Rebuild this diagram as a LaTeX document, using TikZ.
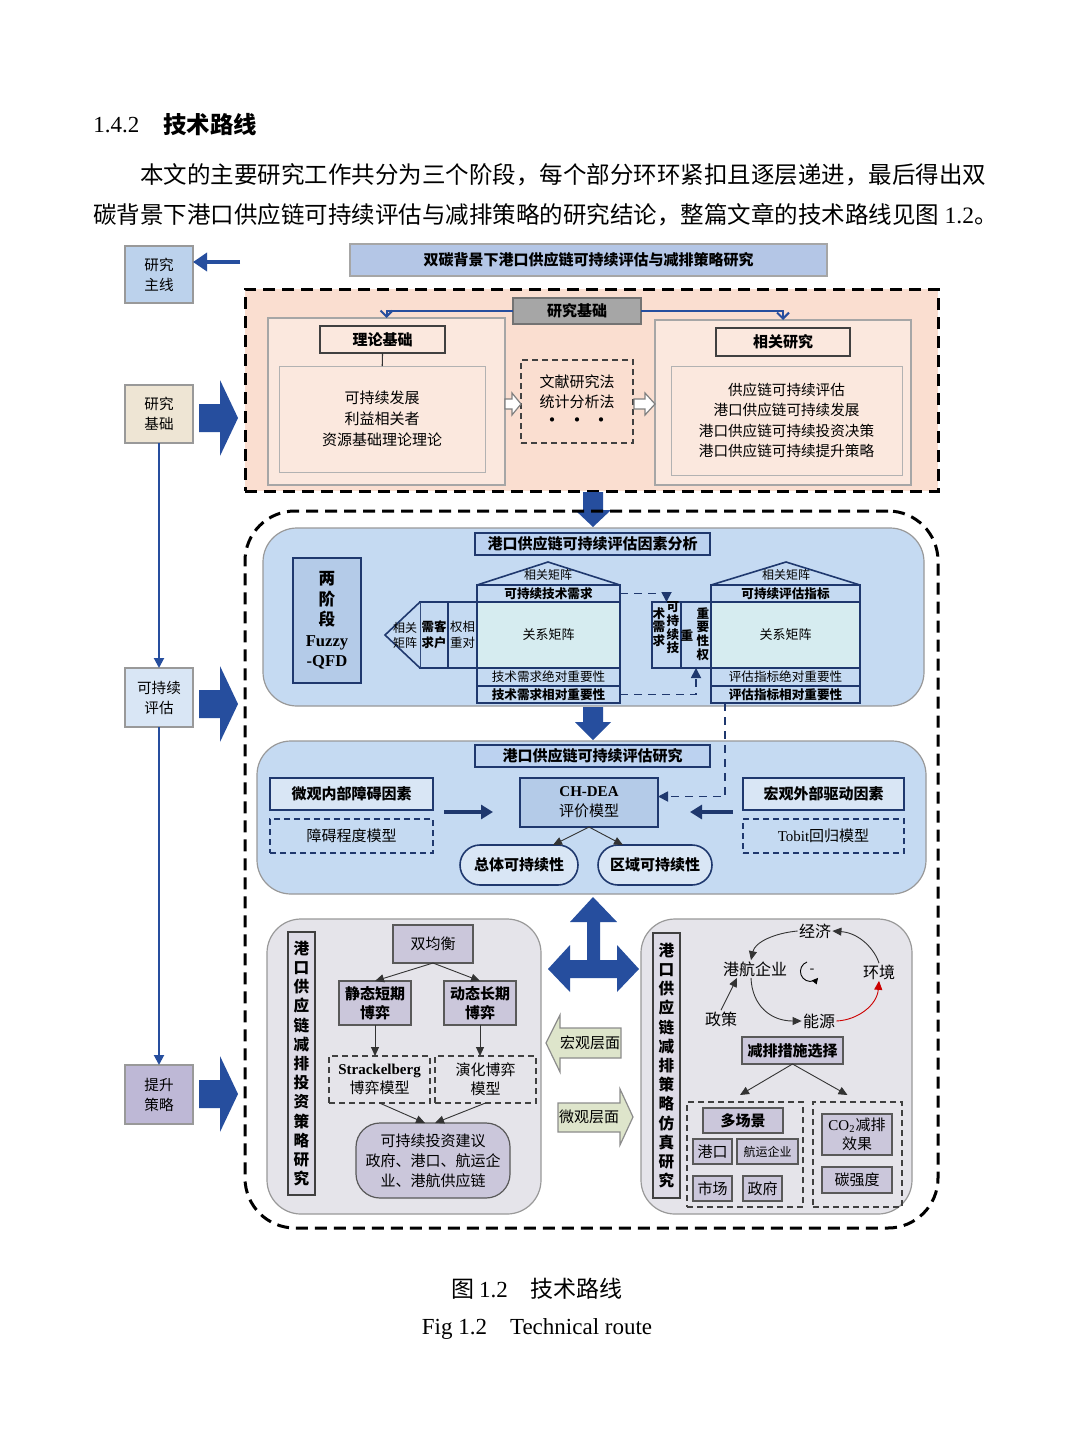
\documentclass[tikz,border=0pt]{standalone}
\usepackage{fontspec}
\setmainfont{Noto Sans CJK SC}
\newfontfamily\lat{Liberation Serif}
\usetikzlibrary{arrows.meta,calc}
\newcommand{\myfs}[2]{\fontsize{#1}{#2}\selectfont}
\newcommand{\bx}[7]{\node[#1, minimum width={(#5-#3)*0.5pt}, minimum height={(#6-#4)*0.5pt}] (#2) at ({(#3+#5)/2},{(#4+#6)/2}) {#7};}
\definecolor{navy}{RGB}{31,56,110}
\definecolor{arrowblue}{RGB}{38,78,158}
\definecolor{peach}{RGB}{250,222,208}
\definecolor{peachin}{RGB}{251,232,222}
\definecolor{secblue}{RGB}{197,218,242}
\definecolor{titblue}{RGB}{188,210,240}
\definecolor{boxblue}{RGB}{180,203,232}
\definecolor{matcyan}{RGB}{214,236,240}
\definecolor{secgray}{RGB}{229,228,234}
\definecolor{lav}{RGB}{203,199,219}
\definecolor{mainblue}{RGB}{188,210,236}
\definecolor{pgblue}{RGB}{217,230,245}
\definecolor{jcbeige}{RGB}{238,229,212}
\definecolor{tslav}{RGB}{190,184,214}
\definecolor{topbar}{RGB}{180,198,230}
\definecolor{lgreen}{RGB}{222,229,203}
\begin{document}
\begin{tikzpicture}[x=0.5pt,y=-0.5pt,
  base/.style={inner sep=0pt, outer sep=0pt, align=center, font=\myfs{7.5}{10}},
  nbox/.style={base, draw=navy, line width=0.8pt},
  hbox/.style={base, draw=navy, line width=0.8pt, fill=secblue, font=\myfs{6.3}{8}},
  dbox/.style={base, draw=black!75, line width=0.7pt, dash pattern=on 3pt off 2pt},
  lbox/.style={base, draw=black!65, line width=0.6pt, fill=lav},
  side/.style={base, draw=black!40, line width=0.6pt, font=\myfs{7.3}{10}},
  txt/.style={inner sep=0.5pt, align=center},
  tarrow/.style={-{Triangle[length=4.5pt,width=4pt]}, line width=0.45pt, black!80},
  fatarrow/.style={-{Triangle[length=6pt,width=7pt]}, line width=1.6pt, navy},
  dasharrow/.style={-{Triangle[length=5pt,width=5pt]}, line width=0.9pt, navy, dash pattern=on 4pt off 3pt},
  bigdash/.style={draw=black, line width=1.5pt, dash pattern=on 6pt off 3.5pt},
  colline/.style={-{Triangle[length=5pt,width=5pt]}, line width=1pt, arrowblue},
]
\fill[white] (0,0) rectangle (1080,1440);
\useasboundingbox (0,0) rectangle (1080,1440);

% ---------- page text ----------
\node[anchor=west, inner sep=0, font=\myfs{11.5}{14}] (hnum) at (93,125) {\lat 1.4.2};
\node[anchor=west, inner sep=0, font=\myfs{11.7}{14}\bfseries] (htitle) at (163,125) {技术路线};
\node[anchor=west, inner sep=0, font=\myfs{11.75}{14}] (p1) at (140,175) {本文的主要研究工作共分为三个阶段，每个部分环环紧扣且逐层递进，最后得出双};
\node[anchor=west, inner sep=0, font=\myfs{11.75}{14}] (p2) at (93,215) {碳背景下港口供应链可持续评估与减排策略的研究结论，整篇文章的技术路线见图 {\lat 1.2}。};
\node[inner sep=0, font=\myfs{11.5}{14}] (cap1) at (537,1289) {图 {\lat 1.2}\quad 技术路线};
\node[inner sep=0, font=\myfs{11.5}{14}\lat] (cap2) at (537,1329) {Fig 1.2\quad Technical route};

% ---------- title bar & left column ----------
\bx{base, fill=topbar, draw=black!35, line width=0.6pt, font=\myfs{7.5}{10}\bfseries}{title}{350}{244}{827}{276}{双碳背景下港口供应链可持续评估与减排策略研究}
\bx{side, fill=mainblue}{zhuxian}{125}{246}{193}{303}{研究\\主线}
\coordinate (zxs) at (240,262);
\draw[-{Triangle[length=7pt,width=9pt]}, line width=1.8pt, arrowblue] (zxs) -- (zhuxian.east |- zxs);
\bx{side, fill=jcbeige}{jichu}{125}{385}{193}{443}{研究\\基础}
\bx{side, fill=pgblue}{pinggu}{125}{668}{193}{727}{可持续\\评估}
\bx{side, fill=tslav}{celve}{125}{1065}{193}{1124}{提升\\策略}
\draw[colline] (jichu) -- (pinggu);
\draw[colline] (pinggu) -- (celve);
\foreach \c in {418,704,1094}{
  \fill[arrowblue] (199,\c-14) -- (220,\c-14) -- (220,\c-38) -- (238,\c) -- (220,\c+38) -- (220,\c+14) -- (199,\c+14) -- cycle;
}

% ---------- section 1 ----------
\bx{base, bigdash, fill=peach}{sec1}{245}{289}{938}{491}{}
\bx{base, draw=black!35, fill=peachin, line width=0.6pt}{lbox}{268}{318}{505}{485}{}
\bx{base, draw=black!35, fill=peachin, line width=0.6pt}{rbox}{655}{320}{911}{485}{}
\bx{base, fill=black!35, draw=black!55, line width=0.6pt, font=\myfs{7.5}{10}\bfseries}{jcgray}{513}{298}{641}{324}{研究基础}
\draw[-{Straight Barb[length=3pt,width=6pt]}, line width=1pt, arrowblue] (jcgray.west) -| (lbox.north);
\draw[-{Straight Barb[length=3pt,width=6pt]}, line width=1pt, arrowblue] (jcgray.east) -| (rbox.north);
\bx{base, draw=black!75, fill=peachin, line width=0.7pt, font=\myfs{7.5}{10}\bfseries}{lilun}{320}{326}{445}{353}{理论基础}
\bx{base, draw=black!30, fill=peachin, line width=0.5pt, font=\myfs{7.5}{10.5}}{lin}{279}{366}{485}{472}{可持续发展\\利益相关者\\资源基础理论理论}
\draw[line width=0.6pt, black!80] (lilun) -- (lin);
\bx{dbox, font=\myfs{7.5}{10}}{wenxian}{521}{360}{633}{443}{文献研究法\\统计分析法\\{\myfs{10}{10}• • •}}
\bx{base, draw=black!75, fill=peachin, line width=0.7pt, font=\myfs{7.5}{10}\bfseries}{xgyj}{716}{328}{850}{356}{相关研究}
\bx{base, draw=black!30, fill=peachin, line width=0.5pt, font=\myfs{7.3}{10.3}}{rin}{671}{366}{902}{475}{供应链可持续评估\\港口供应链可持续发展\\港口供应链可持续投资决策\\港口供应链可持续提升策略}
\draw[line width=0.6pt, black!50, fill=white] (505,399) -- (512,399) -- (512,393) -- (521,404) -- (512,415) -- (512,409) -- (505,409) -- cycle;
\draw[line width=0.6pt, black!50, fill=white] (634,399) -- (645,399) -- (645,393) -- (655,404) -- (645,415) -- (645,409) -- (634,409) -- cycle;

% down arrow 1
\fill[arrowblue] (583,492) -- (603,492) -- (603,510) -- (611,510) -- (593,527) -- (575,510) -- (583,510) -- cycle;

% ---------- sections 2/3 outer ----------
\bx{base, bigdash, rounded corners=25pt}{sec23}{245}{511}{938}{1228}{}

% ---------- block A ----------
\bx{base, draw=black!40, line width=0.6pt, fill=secblue, rounded corners=17pt}{secA}{263}{528}{924}{706}{}
\bx{nbox, fill=titblue, font=\myfs{7.5}{10}\bfseries}{titA}{475}{533}{710}{555}{港口供应链可持续评估因素分析}
\bx{nbox, fill=boxblue, font=\myfs{8.3}{10.3}\bfseries}{fuzzy}{293}{558}{361}{683}{两\\阶\\段\\{\lat\bfseries Fuzzy}\\{\lat\bfseries -QFD}}

% house 1
\draw[navy, line width=0.8pt, fill=secblue] (477,585) -- (548,562) -- (620,585);
\node[txt, font=\myfs{6}{8}] (roof1) at (548,575) {相关矩阵};
\bx{hbox, font=\myfs{6.3}{8}\bfseries}{h1top}{477}{585}{620}{602}{可持续技术需求}
\bx{hbox, fill=matcyan, font=\myfs{6.5}{8}}{h1mat}{477}{602}{620}{668}{关系矩阵}
\bx{hbox}{h1abs}{477}{668}{620}{686}{技术需求绝对重要性}
\bx{hbox, font=\myfs{6.3}{8}\bfseries}{h1rel}{477}{686}{620}{703}{技术需求相对重要性}
\bx{hbox, font=\myfs{6.2}{8}}{w1b}{448}{602}{477}{668}{权相\\重对}
\bx{hbox, font=\myfs{6.2}{8}\bfseries}{w1a}{420}{602}{448}{668}{需客\\求户}
\draw[navy, line width=0.8pt, fill=secblue] (420,602) -- (385,635) -- (420,668);
\node[txt, font=\myfs{6}{7.5}] (w1tip) at (405,635) {相关\\矩阵};

% middle box
\bx{hbox}{m1}{652}{602}{681}{668}{}
\bx{hbox}{m2}{681}{602}{711}{668}{}
\node[txt, font=\myfs{6.3}{6.8}\bfseries] (m1l) at (659,627) {术\\需\\求};
\node[txt, font=\myfs{6.3}{6.8}\bfseries] (m1r) at (673,628) {可\\持\\续\\技};
\node[txt, font=\myfs{6.3}{6.8}\bfseries] (m2l) at (687,636) {重};
\node[txt, font=\myfs{6.3}{6.8}\bfseries] (m2r) at (703,634) {重\\要\\性\\权};

% house 2
\draw[navy, line width=0.8pt, fill=secblue] (711,585) -- (786,562) -- (860,585);
\node[txt, font=\myfs{6}{8}] (roof2) at (786,575) {相关矩阵};
\bx{hbox, font=\myfs{6.3}{8}\bfseries}{h2top}{711}{585}{860}{602}{可持续评估指标}
\bx{hbox, fill=matcyan, font=\myfs{6.5}{8}}{h2mat}{711}{602}{860}{668}{关系矩阵}
\bx{hbox}{h2abs}{711}{668}{860}{686}{评估指标绝对重要性}
\bx{hbox, font=\myfs{6.3}{8}\bfseries}{h2rel}{711}{686}{860}{703}{评估指标相对重要性}

\draw[dasharrow] (h1top.east) -| (m1.north);
\draw[dasharrow] (h1rel.east) -| (m2.south);

% down arrow 2
\fill[arrowblue] (583,707) -- (603,707) -- (603,722) -- (611,722) -- (593,740) -- (575,722) -- (583,722) -- cycle;

% ---------- block B ----------
\bx{base, draw=black!40, line width=0.6pt, fill=secblue, rounded corners=17pt}{secB}{257}{741}{926}{894}{}
\bx{nbox, fill=titblue, font=\myfs{7.5}{10}\bfseries}{titB}{475}{745}{710}{767}{港口供应链可持续评估研究}
\bx{nbox, fill=pgblue, font=\myfs{7.5}{10}\bfseries}{micro}{270}{778}{433}{810}{微观内部障碍因素}
\bx{dbox, draw=navy}{zhangai}{270}{819}{433}{853}{障碍程度模型}
\bx{nbox, fill=boxblue, font=\myfs{7.5}{10}}{chdea}{520}{778}{658}{827}{{\lat\bfseries CH-DEA}\\评价模型}
\bx{nbox, fill=pgblue, font=\myfs{7.5}{10}\bfseries}{macro}{743}{778}{904}{810}{宏观外部驱动因素}
\bx{dbox, draw=navy}{tobit}{743}{819}{904}{853}{{\lat Tobit}回归模型}
\bx{nbox, fill=pgblue, rounded corners=10pt, font=\myfs{7.5}{10}\bfseries}{zongti}{460}{845}{578}{885}{总体可持续性}
\bx{nbox, fill=pgblue, rounded corners=10pt, font=\myfs{7.5}{10}\bfseries}{quyu}{598}{845}{712}{885}{区域可持续性}
\draw[tarrow] (chdea.south) -- ([xshift=17pt]zongti.north);
\draw[tarrow] (chdea.south) -- ([xshift=-16pt]quyu.north);
\coordinate (a1s) at (444,812);
\coordinate (a1e) at (493,812);
\coordinate (a2s) at (733,812);
\coordinate (a2e) at (690,812);
\draw[fatarrow] (a1s) -- (a1e);
\draw[fatarrow] (a2s) -- (a2e);
\draw[dasharrow] ([xshift=7pt]h2rel.south west) |- ([yshift=3pt]chdea.east);

% ---------- central arrows ----------
\fill[arrowblue] (593,897) -- (617,922) -- (600,922) -- (600,960) -- (617,960) -- (617,945) -- (639,969) -- (617,992) -- (617,978) -- (570,978) -- (570,992) -- (548,969) -- (570,945) -- (570,960) -- (587,960) -- (587,922) -- (570,922) -- cycle;
\draw[line width=0.6pt, black!45, fill=lgreen] (621,1028) -- (560,1028) -- (560,1015) -- (546,1043) -- (560,1072) -- (560,1058) -- (621,1058) -- cycle;
\node[txt, font=\myfs{7.5}{10}] (hgcm) at (590,1043) {宏观层面};
\draw[line width=0.6pt, black!45, fill=lgreen] (558,1103) -- (620,1103) -- (620,1089) -- (633,1117) -- (620,1145) -- (620,1132) -- (558,1132) -- cycle;
\node[txt, font=\myfs{7.5}{10}] (wgcm) at (589,1117) {微观层面};

% ---------- block C ----------
\bx{base, draw=black!40, line width=0.6pt, fill=secgray, rounded corners=17pt}{secC}{267}{919}{541}{1214}{}
\bx{base, draw=black!75, line width=0.8pt, fill=secgray!70!lav, font=\myfs{7.8}{9.6}\bfseries}{vtC}{288}{932}{315}{1195}{港\\口\\供\\应\\链\\减\\排\\投\\资\\策\\略\\研\\究}
\bx{lbox}{sjh}{393}{925}{473}{963}{双均衡}
\bx{lbox, font=\myfs{7.5}{9.5}\bfseries}{jt}{339}{981}{411}{1025}{静态短期\\博弈}
\bx{lbox, font=\myfs{7.5}{9.5}\bfseries}{dt}{444}{981}{516}{1025}{动态长期\\博弈}
\bx{dbox, font=\myfs{7.5}{9.5}}{strk}{329}{1056}{430}{1103}{{\lat\bfseries Strackelberg}\\博弈模型}
\bx{dbox, font=\myfs{7.5}{9.5}}{yh}{435}{1056}{536}{1103}{演化博弈\\模型}
\bx{lbox, rounded corners=12pt, font=\myfs{7.5}{10}}{jy}{356}{1123}{510}{1198}{可持续投资建议\\政府、港口、航运企\\业、港航供应链}
\draw[tarrow] (sjh.south) -- (jt.north);
\draw[tarrow] (sjh.south) -- (dt.north);
\draw[tarrow] (jt.south) -- (jt.south |- strk.north);
\draw[tarrow] (dt.south) -- (dt.south |- yh.north);
\draw[tarrow] (strk.south) -- ([xshift=-4pt]jy.north);
\draw[tarrow] (yh.south) -- ([xshift=1pt]jy.north);

% ---------- block D ----------
\bx{base, draw=black!40, line width=0.6pt, fill=secgray, rounded corners=17pt}{secD}{641}{919}{912}{1214}{}
\bx{base, draw=black!75, line width=0.8pt, fill=secgray!70!lav, font=\myfs{7.8}{9.6}\bfseries}{vtD}{653}{933}{680}{1198}{港\\口\\供\\应\\链\\减\\排\\策\\略\\仿\\真\\研\\究}
\node[txt, font=\myfs{8}{10}] (eco) at (815,931) {经济};
\node[txt, font=\myfs{8}{10}] (firm) at (755,969) {港航企业};
\node[txt, font=\myfs{8}{10}] (env) at (879,972) {环境};
\node[txt, font=\myfs{8}{10}] (pol) at (721,1019) {政策};
\node[txt, font=\myfs{8}{10}] (ener) at (819,1021) {能源};
\draw[tarrow] (eco.west) .. controls (775,933) and (755,942) .. ([xshift=-2pt]firm.north);
\draw[tarrow] ([xshift=-2pt]firm.south) .. controls (752,1005) and (770,1021) .. (ener.west);
\draw[-{Triangle[length=4.5pt,width=4pt]}, line width=0.45pt, red!80!black] (ener.east) .. controls (858,1020) and (877,1005) .. (env.south);
\draw[tarrow] (env.north) .. controls (875,950) and (860,933) .. (eco.east);
\draw[tarrow] (pol.north) -- ([xshift=-9pt]firm.south);
\coordinate (loopc) at (807,962);
\draw[-{Triangle[length=3pt,width=3pt]}, line width=0.45pt] (loopc) arc[start angle=110, end angle=320, radius=5pt];
\node[txt, font=\myfs{7}{8}] (minus) at (812,971) {-};
\bx{lbox, font=\myfs{7.5}{10}\bfseries}{jpxz}{742}{1037}{843}{1064}{减排措施选择}
\bx{dbox}{dl}{687}{1102}{803}{1207}{}
\bx{dbox}{dr}{813}{1102}{902}{1207}{}
\draw[tarrow] (jpxz.south) -- ($(dl.north)+(-5,-7)$);
\draw[tarrow] (jpxz.south) -- ($(dr.north)+(-10,-7)$);
\bx{lbox, font=\myfs{7.5}{10}\bfseries}{dcj}{703}{1108}{783}{1133}{多场景}
\bx{lbox}{gk}{693}{1139}{732}{1164}{港口}
\bx{lbox, font=\myfs{6}{8}}{hy}{737}{1139}{798}{1164}{航运企业}
\bx{lbox}{sc}{693}{1176}{732}{1201}{市场}
\bx{lbox}{zf}{743}{1176}{782}{1201}{政府}
\bx{lbox, font=\myfs{7.5}{9.5}}{co2}{822}{1114}{892}{1155}{{\lat CO\textsubscript{2}}减排\\效果}
\bx{lbox}{tqd}{822}{1167}{892}{1193}{碳强度}
\end{tikzpicture}
\end{document}
